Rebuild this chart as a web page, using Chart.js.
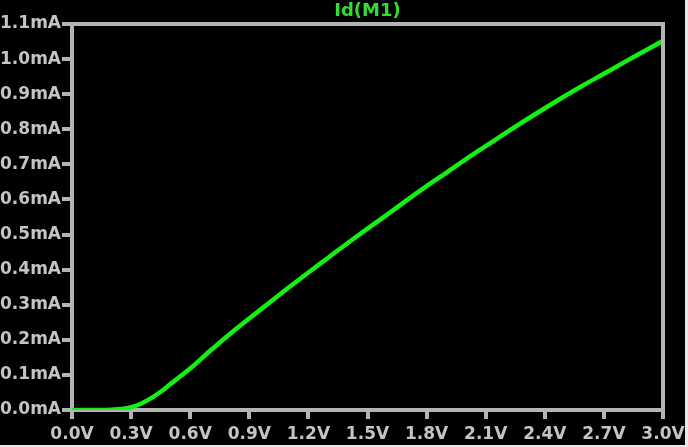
<!DOCTYPE html>
<html>
<head>
<meta charset="utf-8">
<script src="https://cdn.jsdelivr.net/npm/chart.js@4.4.1/dist/chart.umd.min.js"></script>
<style>
  html, body { margin: 0; padding: 0; background: #e4e9ee; }
  #wrap { width: 685px; height: 445px; background: #000; }
</style>
</head>
<body>
<div id="wrap"><canvas id="idChart" width="685" height="445"></canvas></div>
<script>
// Id(M1) sweep
const vgs = [0, 0.1, 0.2, 0.25, 0.3, 0.35, 0.4, 0.45, 0.5, 0.55, 0.6, 0.7, 0.8, 0.9, 1.0,
  1.1, 1.2, 1.3, 1.4, 1.5, 1.6, 1.7, 1.8, 1.9, 2.0, 2.1, 2.2, 2.3, 2.4, 2.5, 2.6, 2.7, 2.8, 2.9, 3.0];
const idMilliAmps = [0, 0, 0.001, 0.003, 0.008, 0.018, 0.033, 0.052, 0.074, 0.096, 0.118, 0.168, 0.216, 0.261, 0.305,
  0.349, 0.392, 0.434, 0.476, 0.517, 0.557, 0.598, 0.638, 0.676, 0.715, 0.752, 0.789, 0.825, 0.86, 0.894, 0.927, 0.958, 0.99, 1.021, 1.052];
const xTicks = [0, 0.3, 0.6, 0.9, 1.2, 1.5, 1.8, 2.1, 2.4, 2.7, 3.0];
const yTicks = [0, 0.1, 0.2, 0.3, 0.4, 0.5, 0.6, 0.7, 0.8, 0.9, 1.0, 1.1];

const AXIS_GRAY = "#b4b4b4";
const LABEL_GRAY = "#c4c4c4";
const FONT = "'DejaVu Sans', Verdana, sans-serif";

// top/right frame + trace title, like the spice viewer
const framePlugin = {
  id: "frame",
  afterDraw(chart) {
    const { ctx, chartArea } = chart;
    ctx.save();
    ctx.strokeStyle = AXIS_GRAY;
    ctx.lineWidth = 4;
    ctx.beginPath();
    ctx.moveTo(chartArea.left, chartArea.top);
    ctx.lineTo(chartArea.right, chartArea.top);
    ctx.lineTo(chartArea.right, chartArea.bottom);
    ctx.stroke();
    ctx.fillStyle = "#33dd33";
    ctx.font = "bold 18px " + FONT;
    ctx.textAlign = "center";
    ctx.textBaseline = "middle";
    ctx.fillText("Id(M1)", (chartArea.left + chartArea.right) / 2, 11);
    ctx.restore();
  },
};

new Chart(document.getElementById("idChart"), {
  type: "line",
  data: {
    datasets: [
      {
        label: "Id(M1)",
        data: vgs.map((v, i) => ({ x: v, y: idMilliAmps[i] })),
        borderColor: "#14f014",
        borderWidth: 4.5,
        pointRadius: 0,
        cubicInterpolationMode: "monotone",
      },
    ],
  },
  options: {
    responsive: false,
    animation: false,
    layout: { padding: { left: 0, right: 22, top: 24, bottom: 0 } },
    plugins: { legend: { display: false }, tooltip: { enabled: false } },
    scales: {
      x: {
        type: "linear",
        min: 0,
        max: 3,
        afterBuildTicks: (axis) => { axis.ticks = xTicks.map((v) => ({ value: v })); },
        afterFit: (axis) => {
          axis.height = 35;
          axis.paddingLeft = 0;
          axis.paddingRight = 0;
        },
        ticks: {
          color: LABEL_GRAY,
          font: { family: FONT, size: 17, weight: "bold" },
          padding: 5,
          maxRotation: 0,
          callback: (v) => v.toFixed(1) + "V",
        },
        grid: { drawOnChartArea: false, tickLength: 9, color: AXIS_GRAY, lineWidth: 4 },
        border: { color: AXIS_GRAY, width: 4 },
      },
      y: {
        type: "linear",
        min: 0,
        max: 1.1,
        afterBuildTicks: (axis) => { axis.ticks = yTicks.map((v) => ({ value: v })); },
        afterFit: (axis) => {
          axis.width = 72;
          axis.paddingTop = 0;
          axis.paddingBottom = 0;
        },
        ticks: {
          color: LABEL_GRAY,
          font: { family: FONT, size: 17, weight: "bold" },
          padding: 1,
          callback: (v) => v.toFixed(1) + "mA",
        },
        grid: { drawOnChartArea: false, tickLength: 10, color: AXIS_GRAY, lineWidth: 4 },
        border: { color: AXIS_GRAY, width: 4 },
      },
    },
  },
  plugins: [framePlugin],
});
</script>
</body>
</html>
